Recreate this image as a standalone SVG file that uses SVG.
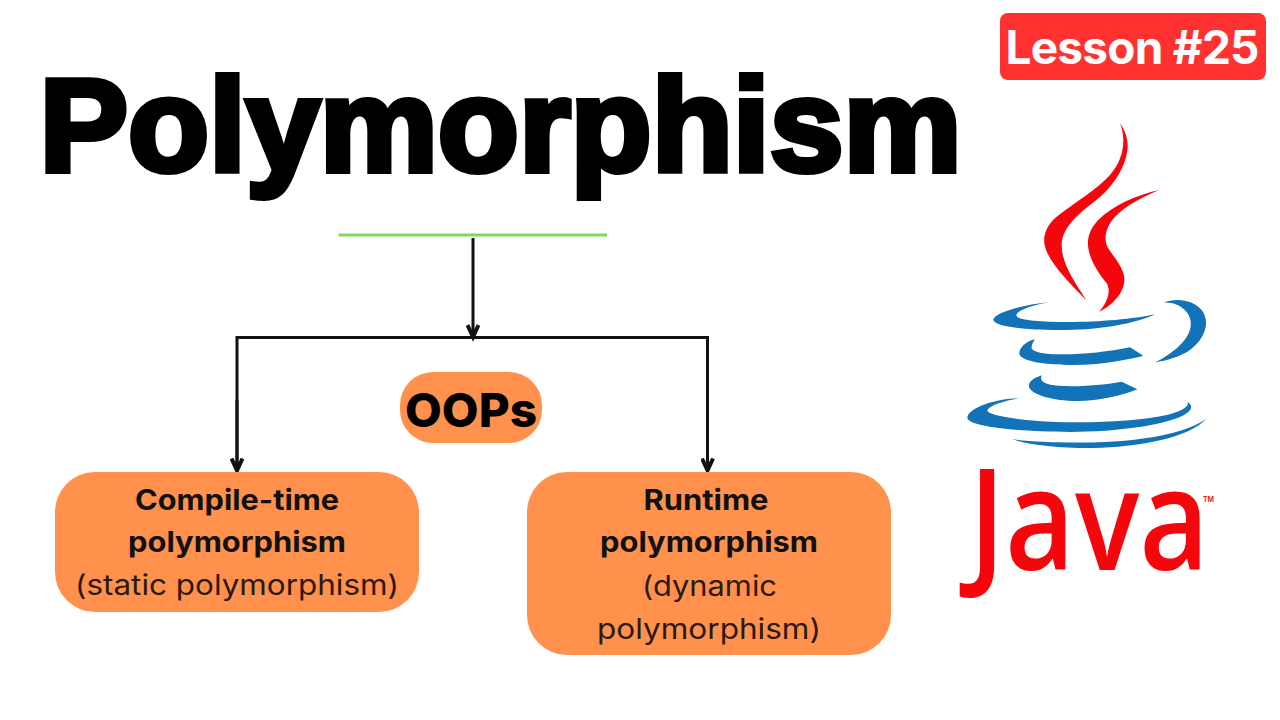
<svg xmlns="http://www.w3.org/2000/svg" width="1280" height="720" viewBox="0 0 1280 720">
<style>
text{font-family:"Inter","Noto Sans",sans-serif;fill:#000;text-anchor:middle}
.box{fill:#ff914d}
.b{font-weight:700;font-size:28px;fill:#111}
.r{font-weight:400;font-size:28px;fill:#2a1a10}
.wire{fill:none;stroke:#111;stroke-width:3}
.red{fill:#f5060c}
.blue{fill:#1273b8}
</style>
<defs>
<marker id="arrow" markerUnits="userSpaceOnUse" markerWidth="18" markerHeight="14" refX="14" refY="7" orient="auto">
<path d="M1 1.500 L13 7 L1 12.500" fill="none" stroke="#111" stroke-width="4"/>
</marker>
</defs>
<rect width="1280" height="720" fill="#fff"/>
<text id="title" x="500.500" y="170.500" style="font-family:'Liberation Sans',Arial,sans-serif;font-weight:700;font-size:131px;stroke:#000;stroke-width:6px;stroke-linejoin:miter" textLength="922" lengthAdjust="spacingAndGlyphs">Polymorphism</text>
<g id="badge"><rect x="1000" y="13" width="266" height="67" rx="8" fill="#ff3131"/><text x="1132.500" y="64" style="font-weight:700;font-size:46px;fill:#fff" textLength="254" lengthAdjust="spacing">Lesson #25</text></g>
<g id="connectors">
<line x1="338.500" y1="235" x2="607" y2="235" stroke="#7ed957" stroke-width="3"/>
<path class="wire" d="M473 238V338" marker-end="url(#arrow)"/>
<path class="wire" d="M237 471V337.500H707.500V471" />
<path class="wire" d="M237 400V471.500" marker-end="url(#arrow)"/>
<path class="wire" d="M707.500 400V471.500" marker-end="url(#arrow)"/>
</g>
<g id="oops"><rect class="box" x="400" y="372" width="142" height="71" rx="33"/><text x="471" y="427" style="font-weight:800;font-size:47px" textLength="132" lengthAdjust="spacingAndGlyphs">OOPs</text></g>
<g id="compile"><rect class="box" x="55" y="472" width="364" height="140" rx="40"/>
<text class="b" x="237" y="510" textLength="204" lengthAdjust="spacingAndGlyphs">Compile-time</text><text class="b" x="237" y="552" textLength="218" lengthAdjust="spacingAndGlyphs">polymorphism</text><text class="r" x="237" y="595" textLength="324" lengthAdjust="spacingAndGlyphs">(static polymorphism)</text></g>
<g id="runtime"><rect class="box" x="527" y="472" width="364" height="183" rx="40"/>
<text class="b" x="706" y="510" textLength="125" lengthAdjust="spacingAndGlyphs">Runtime</text><text class="b" x="709" y="552" textLength="218" lengthAdjust="spacingAndGlyphs">polymorphism</text><text class="r" x="709.500" y="596" textLength="135" lengthAdjust="spacingAndGlyphs">(dynamic</text><text class="r" x="709" y="639" textLength="224" lengthAdjust="spacingAndGlyphs">polymorphism)</text></g>
<g id="java-logo">
<g transform="translate(950 110) scale(.33333)">
<path class="red" d="M510 40C530 90 520 150 480 195C440 240 370 280 320 320C290 345 280 375 283 400C290 450 350 510 410 572C370 510 335 460 335 405C335 360 375 320 420 285C470 250 525 190 533 115C535 90 525 60 510 40Z"/>
<path class="red" d="M628 240C560 255 490 285 445 330C420 355 410 385 415 415C420 450 445 490 470 520C485 545 470 580 447 605C490 585 525 545 523 505C520 470 490 440 472 410C460 385 468 350 495 320C530 285 580 260 628 240Z"/>
<path class="blue" d="M298 577C210 585 130 610 130 630C135 650 230 662 350 660C450 660 560 640 615 613C540 630 400 640 300 635C220 632 195 625 200 612C210 598 250 585 298 577Z"/>
<path class="blue" d="M640 578C680 562 730 570 755 600C785 640 760 690 720 720C690 740 650 752 615 757C660 735 715 695 722 650C728 610 690 575 640 578Z"/>
<path class="blue" d="M255 688C225 695 207 715 208 732C215 755 290 765 370 765C450 765 530 750 580 737L540 712C480 725 400 733 340 733C280 733 240 725 245 710C247 700 250 695 255 688Z"/>
<path class="blue" d="M275 796C250 805 235 815 237 830C245 855 310 872 380 873C450 873 520 855 562 838L515 815C460 825 390 830 340 828C300 827 265 820 275 796Z"/>
<path class="blue" d="M205 865C140 865 50 895 52 925C60 950 200 965 360 966C500 966 660 945 710 910C730 895 725 885 713 875C720 890 690 905 650 915C560 935 420 940 300 935C200 930 110 915 112 900C120 885 165 872 205 865Z"/>
<path class="blue" d="M187 988C240 1005 330 1015 430 1014C560 1012 720 985 770 925C720 965 600 990 480 995C380 1000 270 998 187 988Z"/>
</g>
<text y="570" style="font-family:'Open Sans',sans-serif;font-weight:600;font-size:141px;fill:#f5060c;text-anchor:start"><tspan x="969" textLength="240" lengthAdjust="spacingAndGlyphs">Java</tspan><tspan x="1203" y="502" style="font-family:Inter,sans-serif;font-size:7px">TM</tspan></text>
</g>
</svg>
